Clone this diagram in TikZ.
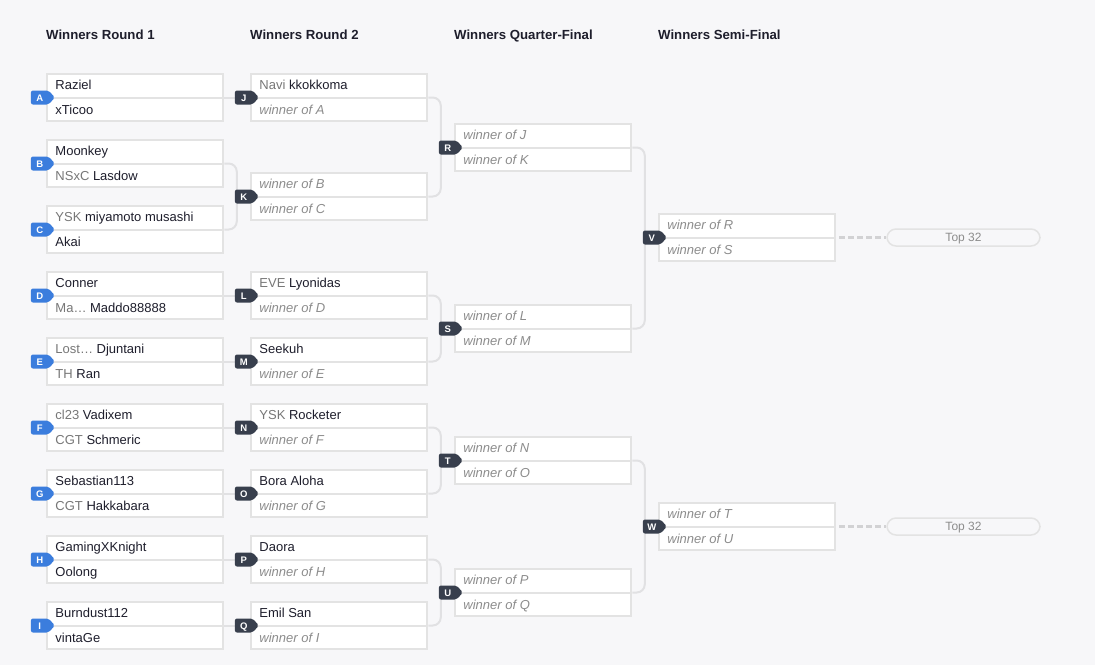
\documentclass[tikz,border=0pt]{standalone}
\usepackage{fontspec}
\setmainfont{Liberation Sans}
\usetikzlibrary{shapes.symbols}
\definecolor{pagebg}{HTML}{F7F7F9}
\definecolor{boxline}{HTML}{E3E3E3}
\definecolor{wirecol}{HTML}{E1E1E3}
\definecolor{namecol}{HTML}{1E1E2C}
\definecolor{clancol}{HTML}{777777}
\definecolor{tbdcol}{HTML}{8C8C8C}
\definecolor{roundblue}{HTML}{3B7DDD}
\definecolor{slate}{HTML}{383F4D}
\definecolor{dashcol}{HTML}{D2D2D4}

\newcommand\clan[1]{{\color{clancol}#1}\ }
\newcommand\tbd[1]{{\color{tbdcol}\itshape winner of #1}}
% one match: name, x, y, upper entry, lower entry
\newcommand\match[5]{%
  \node[box] (m#1) at (#2,#3) {};
  \draw[sep] (m#1.west) -- (m#1.east);
  \node[entry] (m#1a) at ([xshift=9.5pt,yshift=12.25pt]m#1.west) {#4};
  \node[entry] (m#1b) at ([xshift=9.5pt,yshift=-12.25pt]m#1.west) {#5};
}

\begin{document}
\begin{tikzpicture}[x=1pt, y=-1pt,
    box/.style={draw=boxline, line width=2pt, fill=white,
      minimum width=176.5pt, minimum height=46.5pt, inner sep=0pt},
    sep/.style={draw=boxline, line width=2pt},
    entry/.style={anchor=west, inner sep=0pt, text height=9.3pt, text depth=0pt,
      font=\fontsize{13}{15}\selectfont, text=namecol},
    hdr/.style={anchor=west, inner sep=0pt, text height=9.8pt, text depth=0pt,
      font=\fontsize{13.2}{15}\selectfont\bfseries, text=namecol},
    wire/.style={draw=wirecol, line width=2pt, rounded corners=8pt},
    badge/.style={shape=signal, signal to=east, signal pointer angle=95,
      fill=slate, text=white, minimum width=24pt, minimum height=14pt,
      inner xsep=4pt, inner ysep=0pt, text height=7.8pt, text depth=0pt,
      rounded corners=2pt,
      font=\fontsize{9.5}{10}\selectfont\bfseries},
    r1badge/.style={badge, fill=roundblue},
    tbdline/.style={draw=dashcol, line width=3pt, dash pattern=on 6pt off 3pt},
    nextbox/.style={draw=boxline, line width=1.5pt, fill=pagebg, rounded corners=9pt,
      minimum width=153pt, minimum height=17pt, inner sep=0pt,
      text height=8.6pt, text depth=0pt,
      font=\fontsize{12}{14}\selectfont, text=tbdcol}]

    \def\colA{135}
    \def\colB{339}
    \def\colC{543}
    \def\colD{747}

    % page
    \fill [pagebg] (0,0) rectangle (1095,665);

    % round titles
    \node [hdr] (h1) at (46,34.5) {Winners Round 1};
    \node [hdr] (h2) at (250,34.5) {Winners Round 2};
    \node [hdr] (h3) at (454,34.5) {Winners Quarter-Final};
    \node [hdr] (h4) at (658,34.5) {Winners Semi-Final};

    % round 1
    \match{A}{\colA}{97.5}{Raziel}{xTicoo}
    \match{B}{\colA}{163.5}{Moonkey}{\clan{NSxC}Lasdow}
    \match{C}{\colA}{229.5}{\clan{YSK}miyamoto musashi}{Akai}
    \match{D}{\colA}{295.5}{Conner}{\clan{Ma…}Maddo88888}
    \match{E}{\colA}{361.5}{\clan{Lost…}Djuntani}{\clan{TH}Ran}
    \match{F}{\colA}{427.5}{\clan{cl23}Vadixem}{\clan{CGT}Schmeric}
    \match{G}{\colA}{493.5}{Sebastian113}{\clan{CGT}Hakkabara}
    \match{H}{\colA}{559.5}{GamingXKnight}{Oolong}
    \match{I}{\colA}{625.5}{Burndust112}{vintaGe}

    % round 2
    \match{J}{\colB}{97.5}{\clan{Navi}kkokkoma}{\tbd{A}}
    \match{K}{\colB}{196.5}{\tbd{B}}{\tbd{C}}
    \match{L}{\colB}{295.5}{\clan{EVE}Lyonidas}{\tbd{D}}
    \match{M}{\colB}{361.5}{Seekuh}{\tbd{E}}
    \match{N}{\colB}{427.5}{\clan{YSK}Rocketer}{\tbd{F}}
    \match{O}{\colB}{493.5}{Bora Aloha}{\tbd{G}}
    \match{P}{\colB}{559.5}{Daora}{\tbd{H}}
    \match{Q}{\colB}{625.5}{Emil San}{\tbd{I}}

    % quarter-finals
    \match{R}{\colC}{147.5}{\tbd{J}}{\tbd{K}}
    \match{S}{\colC}{328.5}{\tbd{L}}{\tbd{M}}
    \match{T}{\colC}{460.5}{\tbd{N}}{\tbd{O}}
    \match{U}{\colC}{592.5}{\tbd{P}}{\tbd{Q}}

    % semi-finals
    \match{V}{\colD}{237.5}{\tbd{R}}{\tbd{S}}
    \match{W}{\colD}{526.5}{\tbd{T}}{\tbd{U}}

    % next stage
    \node [nextbox] (topV) at (963.5,237.5) {Top 32};
    \node [nextbox] (topW) at (963.5,526.5) {Top 32};

    % connectors
    \draw [wire] (mA.east) -- (mJ.west);
    \draw [wire] (mB.east) -| ([xshift=-13pt]mK.west) |- (mC.east);
    \draw [wire] (mD.east) -- (mL.west);
    \draw [wire] (mE.east) -- (mM.west);
    \draw [wire] (mF.east) -- (mN.west);
    \draw [wire] (mG.east) -- (mO.west);
    \draw [wire] (mH.east) -- (mP.west);
    \draw [wire] (mI.east) -- (mQ.west);
    \draw [wire] (mJ.east) -| ([xshift=-13pt]mR.west) |- (mK.east);
    \draw [wire] (mL.east) -| ([xshift=-13pt]mS.west) |- (mM.east);
    \draw [wire] (mN.east) -| ([xshift=-13pt]mT.west) |- (mO.east);
    \draw [wire] (mP.east) -| ([xshift=-13pt]mU.west) |- (mQ.east);
    \draw [wire] (mR.east) -| ([xshift=-13pt]mV.west) |- (mS.east);
    \draw [wire] (mT.east) -| ([xshift=-13pt]mW.west) |- (mU.east);
    \draw [tbdline] ([xshift=3pt]mV.east) -- (topV.west);
    \draw [tbdline] ([xshift=3pt]mW.east) -- (topW.west);

    % match letters
    \foreach \m in {A,B,C,D,E,F,G,H,I}
        \node [r1badge, anchor=west] (b\m) at ([xshift=-15pt]m\m.west) {\m};
    \foreach \m in {J,K,L,M,N,O,P,Q,R,S,T,U,V,W}
        \node [badge, anchor=west] (b\m) at ([xshift=-15pt]m\m.west) {\m};
\end{tikzpicture}
\end{document}
